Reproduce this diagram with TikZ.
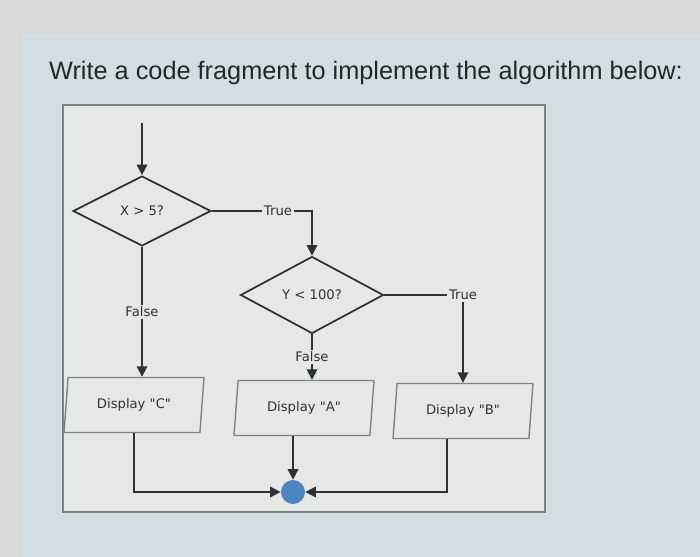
\documentclass[tikz,border=0pt]{standalone}
\usepackage{fontspec}
\setmainfont{Liberation Sans}
\newfontfamily\chartfont{DejaVu Sans}
\usetikzlibrary{arrows.meta,shapes.geometric}
\definecolor{Ink}{HTML}{2F3234}
\definecolor{Edge}{HTML}{7E8284}
\definecolor{Paper}{HTML}{E6E8E7}
\definecolor{Panel}{HTML}{D3DEE2}
\definecolor{Screen}{HTML}{D8D9DA}
\definecolor{Dot}{HTML}{4C86C2}
\tikzset{test/.style={diamond,draw=Ink,line width=1pt,fill=Paper,inner sep=0pt,minimum width=2.76cm,minimum height=1.4cm},io/.style={trapezium,trapezium left angle=76,trapezium right angle=104,trapezium stretches body=true,draw=Edge,line width=0.8pt,fill=Paper,minimum width=2.8cm,minimum height=1.1cm,inner sep=1pt},flow/.style={-{Triangle[length=6pt,width=6pt]},line width=1pt,draw=Ink},tag/.style={fill=Paper,inner sep=1pt,text=Ink}}

\begin{document}
\begin{tikzpicture}[x=0.02cm,y=-0.02cm,font=\chartfont\fontsize{7.5}{9}\selectfont,text=Ink]
\useasboundingbox (0,0) rectangle (700,557);
\fill[Screen] (0,0) rectangle (700,557);
\fill[Panel] (22,35) rectangle (700,557);
\node[font=\fontsize{14.4}{17}\selectfont,text=black!85] (title) at (366,73) {Write a code fragment to implement the algorithm below:};
\draw[draw=Edge,fill=Paper,line width=1pt] (63,105) rectangle (545,512);
\coordinate (start) at (142,123);
\node[test] (x5) at (142,211) {X > 5?};
\node[test,minimum width=2.86cm,minimum height=1.54cm] (y100) at (312,295) {Y < 100?};
\node[io] (dc) at (134,405) {Display "C"};
\node[io] (da) at (304,408) {Display "A"};
\node[io] (db) at (463,411) {Display "B"};
\node[circle,fill=Dot,minimum size=0.48cm,inner sep=0pt] (join) at (293,492) {};
\draw[flow] (start) -- (x5.north);
\draw[flow] (x5.east) -| node[tag,pos=0.33]{True} (y100.north);
\draw[flow] (x5.south) -- node[tag]{False} (x5.south |- dc.north);
\draw[flow] (y100.east) -| node[tag,pos=0.5]{True} (db.north);
\draw[flow] (y100.south) -- node[tag]{False} (y100.south |- da.north);
\draw[flow] (dc.south) |- (join);
\draw[flow] (join |- da.south) -- (join);
\draw[flow] ([xshift=-0.32cm]db.south) |- (join);
\end{tikzpicture}
\end{document}
